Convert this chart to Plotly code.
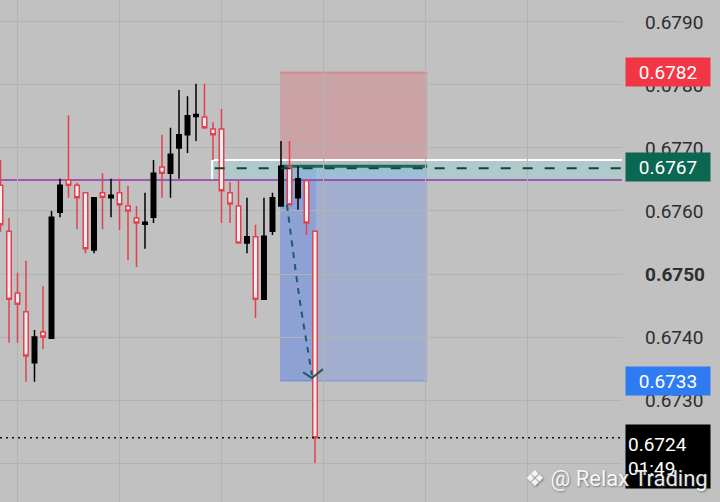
import plotly.graph_objects as go

# ---------------- data ----------------
bar_index = list(range(38))
open_ = [0.67641,0.67568,0.67470,0.67440,0.67359,0.67408,0.67398,0.67598,0.67649,0.67641,
         0.67629,0.67538,0.67629,0.67621,0.67629,0.67608,0.67589,0.67579,0.67590,0.67670,
         0.67660,0.67700,0.67721,0.67750,0.67749,0.67730,0.67730,0.67629,0.67608,0.67549,
         0.67559,0.67460,0.67568,0.67608,0.67671,0.67621,0.67648,0.67568]
high = [0.67681,0.67589,0.67502,0.67521,0.67411,0.67481,0.67600,0.67651,0.67752,0.67645,
        0.67629,0.67621,0.67660,0.67651,0.67651,0.67640,0.67608,0.67629,0.67681,0.67721,
        0.67732,0.67792,0.67782,0.67802,0.67802,0.67741,0.67762,0.67646,0.67648,0.67621,
        0.67578,0.67621,0.67629,0.67711,0.67711,0.67671,0.67648,0.67568]
low = [0.67567,0.67391,0.67391,0.67329,0.67329,0.67381,0.67398,0.67590,0.67621,0.67571,
       0.67533,0.67533,0.67571,0.67590,0.67570,0.67522,0.67511,0.67540,0.67581,0.67621,
       0.67621,0.67651,0.67692,0.67711,0.67730,0.67681,0.67581,0.67581,0.67549,0.67533,
       0.67430,0.67460,0.67562,0.67608,0.67610,0.67602,0.67562,0.67200]
close = [0.67578,0.67460,0.67452,0.67370,0.67400,0.67400,0.67590,0.67641,0.67641,0.67621,
         0.67540,0.67621,0.67622,0.67625,0.67610,0.67600,0.67581,0.67582,0.67660,0.67660,
         0.67690,0.67721,0.67751,0.67753,0.67732,0.67721,0.67632,0.67611,0.67549,0.67559,
         0.67460,0.67560,0.67621,0.67671,0.67610,0.67651,0.67581,0.67240]

tick_values = [0.6720, 0.6730, 0.6740, 0.6750, 0.6760, 0.6770, 0.6780, 0.6790]
tick_labels = ["0.6720", "0.6730", "0.6740", "<b>0.6750</b>", "0.6760", "0.6770", "0.6780", "0.6790"]

# drawing levels
stop_level = 0.6782
entry_level = 0.6767
target_level = 0.6733
last_price = 0.6724
countdown = "01:49"
purple_level = 0.67649
band_top = 0.67681
dashed_level = 0.67668
entry_line_level = 0.67671
position_start, position_end = 32.9, 50.2
filled_end = 37.1
band_start = 24.9
dash_start = 25.2
arrow_x = [33.7, 34.4, 35.2, 36.06, 36.64]
arrow_y = [0.67610, 0.67538, 0.67459, 0.67387, 0.67340]
arrowhead_x = [35.59, 36.64, 37.94]
arrowhead_y = [0.67344, 0.67335, 0.67349]

X_MIN, X_MAX = -0.059, 73.12
Y_MIN, Y_MAX = 0.671381, 0.679349
BG = "#c1c1c1"

fig = go.Figure()

fig.add_trace(go.Candlestick(
    x=bar_index, open=open_, high=high, low=low, close=close,
    increasing=dict(line=dict(color="#000000", width=1.5), fillcolor="#000000"),
    decreasing=dict(line=dict(color="#e0424e", width=1.5), fillcolor="#fbeef0"),
    whiskerwidth=0, showlegend=False, hoverinfo="skip",
))

fig.add_trace(go.Scatter(
    x=arrow_x, y=arrow_y, mode="lines", line=dict(color="#1d5c66", width=2, dash="6px,6px", shape="spline"),
    showlegend=False, hoverinfo="skip"))
fig.add_trace(go.Scatter(
    x=arrowhead_x, y=arrowhead_y, mode="lines", line=dict(color="#1d5c66", width=2),
    showlegend=False, hoverinfo="skip"))

shapes = [
    # position tool: stop (red) and target (blue)
    dict(type="rect", x0=position_start, x1=position_end, y0=entry_level, y1=stop_level,
         fillcolor="rgba(242,54,69,0.22)", line=dict(width=0), layer="below"),
    dict(type="line", x0=position_start, x1=position_end, y0=stop_level, y1=stop_level,
         line=dict(color="rgba(230,90,100,0.45)", width=2), layer="below"),
    dict(type="rect", x0=position_start, x1=position_end, y0=target_level, y1=entry_level,
         fillcolor="rgba(41,98,255,0.2)", line=dict(width=0), layer="below"),
    dict(type="rect", x0=position_start, x1=filled_end, y0=target_level, y1=entry_level,
         fillcolor="rgba(41,98,255,0.17)", line=dict(width=0), layer="below"),
    dict(type="line", x0=position_start, x1=position_end, y0=target_level, y1=target_level,
         line=dict(color="rgba(41,98,255,0.25)", width=1.5), layer="below"),
    # teal band
    dict(type="rect", x0=band_start, x1=X_MAX, y0=purple_level, y1=band_top,
         fillcolor="rgba(150,218,220,0.38)", line=dict(width=0), layer="below"),
    dict(type="line", x0=band_start, x1=X_MAX, y0=band_top, y1=band_top,
         line=dict(color="#ffffff", width=2), layer="below"),
    dict(type="line", x0=band_start, x1=band_start, y0=purple_level, y1=band_top,
         line=dict(color="#ffffff", width=2), layer="below"),
    # purple horizontal
    dict(type="line", x0=X_MIN, x1=X_MAX, y0=purple_level, y1=purple_level,
         line=dict(color="#9336aa", width=1.5), layer="below"),
    # entry line
    dict(type="line", x0=position_start, x1=position_end, y0=entry_line_level, y1=entry_line_level,
         line=dict(color="#0e6b5b", width=3), layer="below"),
    # dashed level
    dict(type="line", x0=dash_start, x1=X_MAX, y0=dashed_level, y1=dashed_level,
         line=dict(color="#17403d", width=2, dash="10px,12px"), layer="above"),
    # last price dotted
    dict(type="line", x0=X_MIN, x1=X_MAX, y0=last_price, y1=last_price,
         line=dict(color="#111111", width=1.5, dash="2px,4px"), layer="above"),
]

label_x = 668 / 622
box_font = dict(family="Roboto", size=19, color="#ffffff")
annotations = [
    dict(x=label_x, y=stop_level, xref="paper", yref="y", xanchor="center", yanchor="middle",
         text=f"{stop_level:.4f}", showarrow=False, bgcolor="#f23645",
         width=80, height=24, borderpad=2, font=box_font),
    dict(x=label_x, y=entry_level, xref="paper", yref="y", xanchor="center", yanchor="middle",
         text=f"{entry_level:.4f}", showarrow=False, bgcolor="#0b6652",
         width=80, height=24, borderpad=2, font=box_font),
    dict(x=label_x, y=target_level, xref="paper", yref="y", xanchor="center", yanchor="middle",
         text=f"{target_level:.4f}", showarrow=False, bgcolor="#2f7bf3",
         width=80, height=24, borderpad=2, font=box_font),
    dict(x=label_x, y=last_price, xref="paper", yref="y", xanchor="center", yanchor="top", yshift=14,
         text=f"{last_price:.4f}<br>{countdown}", align="left",
         showarrow=False, bgcolor="#000000", width=80, height=59, borderpad=2, font=box_font),
    dict(x=710 / 622, y=1 - 478 / 502, xref="paper", yref="paper", xanchor="right", yanchor="middle",
         text="❖ @ Relax Trading", showarrow=False,
         font=dict(family="Roboto", size=22, color="rgba(255,255,255,0.92)",
                   shadow="1px 1px 2px rgba(80,80,80,0.7)")),
]

fig.update_layout(
    width=720, height=502,
    margin=dict(l=0, r=98, t=0, b=0),
    paper_bgcolor=BG, plot_bgcolor=BG,
    shapes=shapes, annotations=annotations,
    showlegend=False,
    xaxis=dict(range=[X_MIN, X_MAX], showticklabels=False, showgrid=True, gridcolor="#b3b3b3",
               gridwidth=1, tick0=2, dtick=12, zeroline=False, showline=False,
               rangeslider=dict(visible=False), fixedrange=True),
    yaxis=dict(range=[Y_MIN, Y_MAX], side="right", tickvals=tick_values, ticktext=tick_labels,
               showgrid=True, gridcolor="#b3b3b3", gridwidth=1, zeroline=False, showline=False,
               ticks="", ticklabelstandoff=22,
               tickfont=dict(family="Roboto", size=19, color="#2e2e2e"), fixedrange=True),
    boxgap=0.25,
)

fig.write_html("out.html", config={"displayModeBar": False},
               post_script="document.body.style.margin='0';document.body.style.overflow='hidden';")
